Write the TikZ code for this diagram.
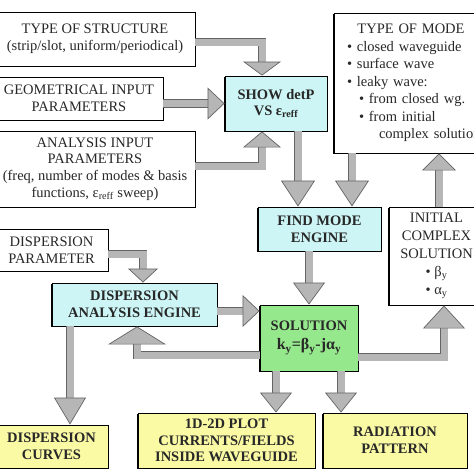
\documentclass[tikz,border=0pt]{standalone}
\usepackage{fontspec}
\setmainfont{Liberation Serif}
\usetikzlibrary{arrows.meta,shadows}

\definecolor{arrowgray}{RGB}{182,182,182}
\definecolor{arrowline}{RGB}{100,100,100}
\definecolor{enginecyan}{RGB}{205,245,245}
\definecolor{solgreen}{RGB}{150,232,140}
\definecolor{outyellow}{RGB}{250,250,165}
\definecolor{inktext}{RGB}{40,40,40}

\tikzset{
  block/.style={draw=black, line width=0.9pt, fill=white, align=center, inner sep=2pt,
    text=inktext, font=\fontsize{14.5}{16.7}\selectfont,
    general shadow={fill=black, shadow xshift=-1.3pt, shadow yshift=-1.3pt}},
  engine/.style={block, fill=enginecyan, font=\bfseries\fontsize{14.5}{16.7}\selectfont},
  result/.style={block, fill=outyellow, font=\bfseries\fontsize{14.5}{16.7}\selectfont},
  head/.style 2 args={-{Triangle[width=#1, length=#2, line width=0.7pt, fill=arrowgray, color=arrowline]}},
  fat/.style={draw=arrowgray, line width=7pt, head={32pt}{20pt},
    preaction={draw=arrowline, line width=8.6pt, shorten >=12pt, arrows=-}},
}

\begin{document}
\begin{tikzpicture}[x=1pt, y=-1pt]
	\useasboundingbox (0,0) rectangle (474,474);

	% Input tables
	\node[block, minimum width=200pt, minimum height=54pt] (structure) at (95,39)
		{TYPE OF STRUCTURE\\(strip/slot, uniform/periodical)};
	\node[block, minimum width=168pt, minimum height=43pt] (geom) at (79,98.5)
		{GEOMETRICAL INPUT\\PARAMETERS};
	\node[block, minimum width=200pt, minimum height=76pt] (analysis) at (95,169)
		{ANALYSIS INPUT\\PARAMETERS\\(freq, number of modes \& basis\\functions, ε\textsubscript{reff} sweep)};
	\node[block, minimum width=113pt, minimum height=42pt] (disppar) at (51.5,250)
		{DISPERSION\\PARAMETER};

	% Engines
	\node[engine, minimum width=102pt, minimum height=55pt] (show) at (276,103.5)
		{SHOW detP\\VS ε\textsubscript{reff}};
	\node[engine, minimum width=123pt, minimum height=44pt] (find) at (319.5,229)
		{FIND MODE\\ENGINE};
	\node[engine, minimum width=165pt, minimum height=43pt] (dae) at (134.5,304.5)
		{DISPERSION\\ANALYSIS ENGINE};
	\node[block, fill=solgreen, minimum width=98pt, minimum height=66pt,
		font=\bfseries\fontsize{14.5}{19}\selectfont] (solution) at (309,338)
		{SOLUTION\\{\fontsize{16}{19}\selectfont k\textsubscript{y}=β\textsubscript{y}-jα\textsubscript{y}}};

	% Mode tables
	\node[block, minimum height=140pt, text width=150pt, align=left,
		font=\fontsize{14.5}{17.5}\selectfont] (mode) at (411,83)
		{\centering TYPE OF MODE\par\raggedright
		\hspace*{11pt}\textbullet~closed waveguide\\
		\hspace*{11pt}\textbullet~surface wave\\
		\hspace*{11pt}\textbullet~leaky wave:\\
		\hspace*{23pt}\textbullet~from closed wg.\\
		\hspace*{23pt}\textbullet~from initial\\
		\hspace*{43pt}\mbox{complex solution}};
	\node[block, minimum width=95pt, minimum height=98pt, font=\fontsize{14.5}{18}\selectfont] (initial) at (436.5,256)
		{INITIAL\\COMPLEX\\SOLUTION\\\textbullet~β\textsubscript{y}\\\textbullet~α\textsubscript{y}};

	% Results
	\node[result, minimum width=113pt, minimum height=43pt] (curves) at (51.5,446.5)
		{DISPERSION\\CURVES};
	\node[result, minimum width=177pt, minimum height=55pt] (plot) at (226.5,440.5)
		{1D-2D PLOT\\CURRENTS/FIELDS\\INSIDE WAVEGUIDE};
	\node[result, minimum width=144pt, minimum height=55pt] (radiation) at (395,440.5)
		{RADIATION\\PATTERN};

	% Anchor points
	\coordinate (showin) at ([xshift=-14pt]show.north);
	\coordinate (showup) at ([xshift=-14pt]show.south);
	\coordinate (showout) at ([xshift=22pt]show.south);
	\coordinate (modeout) at ([xshift=-59pt]mode.south);
	\coordinate (initout) at ([xshift=2.5pt]initial.north);
	\coordinate (initin) at ([xshift=7.5pt]initial.south);
	\coordinate (daein) at ([xshift=8.5pt]dae.north);
	\coordinate (daeup) at ([xshift=2.5pt]dae.south);
	\coordinate (daeout) at ([xshift=-64.5pt]dae.south);
	\coordinate (solin) at ([yshift=27pt]solution.west);
	\coordinate (solback) at ([yshift=-17pt]solution.west);
	\coordinate (solright) at ([yshift=-19pt]solution.east);
	\coordinate (solleft) at ([xshift=-33pt]solution.south);
	\coordinate (solmid) at ([xshift=32pt]solution.south);

	% Relationships
	\draw[fat, head={38pt}{14pt}] ([yshift=-3pt]structure.east) -| (showin);
	\draw[fat, head={32pt}{17pt}] (geom.east |- show.west) -- (show.west);
	\draw[fat, head={38pt}{16pt}] ([yshift=3pt]analysis.east) -| (showup);
	\draw[fat, head={34pt}{26pt}] (showout) -- (showout |- find.north);
	\draw[fat, head={34pt}{26pt}] (modeout) -- (modeout |- find.north);
	\draw[fat, head={34pt}{17pt}] (initout) -- (initout |- mode.south);
	\draw[fat, head={32pt}{22pt}] (solution.north |- find.south) -- (solution.north);
	\draw[fat, head={30pt}{14pt}] ([yshift=-4pt]disppar.east) -| (daein);
	\draw[fat, head={32pt}{17pt}] (dae.east |- solin) -- (solin);
	\draw[fat, head={58pt}{18pt}] (solback) -| (daeup);
	\draw[fat, head={32pt}{27pt}] (daeout) -- (daeout |- curves.north);
	\draw[fat, head={32pt}{20pt}] (solleft) -- (solleft |- plot.north);
	\draw[fat, head={32pt}{20pt}] (solmid) -- (solmid |- radiation.north);
	\draw[fat, head={42pt}{23pt}] (solright) -| (initin);
\end{tikzpicture}
\end{document}
